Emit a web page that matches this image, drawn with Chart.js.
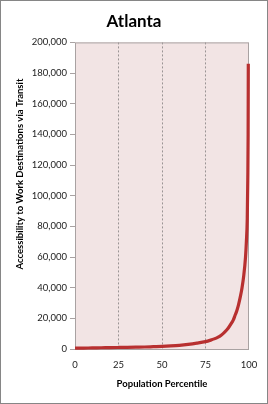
<!DOCTYPE html>
<html>
<head>
<meta charset="utf-8">
<script src="https://cdn.jsdelivr.net/npm/chart.js@4/dist/chart.umd.min.js"></script>
<style>
html,body{margin:0;padding:0;background:#fff;}
#wrap{position:relative;width:268px;height:404px;}
#c{position:absolute;left:0;top:0;}
#frame{position:absolute;left:0;top:0;width:268px;height:404px;box-sizing:border-box;border:1px solid #868686;pointer-events:none;}
</style>
</head>
<body>
<div id="wrap"><canvas id="c" width="268" height="404"></canvas><div id="frame"></div></div>
<script>
const titleText = "Atlanta";
const xTitle = "Population Percentile";
const yTitle = "Accessibility to Work Destinations via Transit";
const xTicks = [0, 25, 50, 75, 100];
const percentiles = [0, 5, 10, 15, 20, 25, 30, 35, 40, 45, 50, 55, 60, 65, 70, 75, 78, 80, 82, 84, 86, 88, 90, 91, 92, 93, 94, 95, 96, 97, 98, 98.5, 99, 99.3, 99.5, 99.6];
const accessibility = [500, 600, 700, 800, 900, 1000, 1100, 1200, 1300, 1500, 1700, 2000, 2400, 3000, 3800, 4800, 5800, 6600, 7600, 9000, 11000, 13500, 17000, 19000, 22000, 25000, 29000, 34000, 40000, 48000, 60000, 70000, 85000, 110000, 140000, 186000];

const FONT = "Lato, 'Open Sans', sans-serif";

const plotDeco = {
  id: 'plotDeco',
  beforeDraw(chart) {
    const a = chart.chartArea, ctx = chart.ctx;
    ctx.save();
    ctx.fillStyle = '#f2e4e4';
    ctx.fillRect(a.left, a.top, a.right - a.left, a.bottom - a.top);
    ctx.restore();
  },
  beforeDatasetsDraw(chart) {
    const a = chart.chartArea, ctx = chart.ctx;
    ctx.save();
    ctx.strokeStyle = '#a9a2a2';
    ctx.lineWidth = 1;
    ctx.strokeRect(a.left + 0.5, a.top + 0.5, a.right - a.left - 1, a.bottom - a.top);
    ctx.restore();
  },
  afterDraw(chart) {
    const ctx = chart.ctx;
    ctx.save();
    ctx.translate(20, 174);
    ctx.rotate(-Math.PI / 2);
    ctx.fillStyle = '#000';
    ctx.font = "bold 9.5px " + FONT;
    ctx.textAlign = 'center';
    ctx.textBaseline = 'middle';
    ctx.fillText(yTitle, 0, 0);
    ctx.restore();
  }
};

new Chart(document.getElementById('c'), {
  type: 'line',
  data: {
    datasets: [{
      data: percentiles.map((p, i) => ({x: p, y: accessibility[i]})),
      borderColor: '#b83030',
      borderWidth: 3.2,
      pointRadius: 0,
      cubicInterpolationMode: 'monotone',
      fill: false
    }]
  },
  options: {
    responsive: false,
    animation: false,
    clip: false,
    layout: {padding: 0},
    plugins: {
      legend: {display: false},
      tooltip: {enabled: false},
      title: {
        display: true,
        text: titleText,
        color: '#000',
        font: {family: FONT, size: 17, weight: 'bold', lineHeight: 1.2},
        padding: {top: 11, bottom: 11}
      }
    },
    scales: {
      x: {
        type: 'linear',
        min: 0, max: 100,
        afterBuildTicks(scale) { scale.ticks = xTicks.map(v => ({value: v})); },
        afterFit(scale) { scale.height = 55; },
        border: {display: false, dash: [2, 2]},
        grid: {
          drawTicks: false,
          color: ctx => (ctx.tick && (ctx.tick.value === 0 || ctx.tick.value === 100)) ? 'rgba(0,0,0,0)' : '#9a9494',
          lineWidth: 1
        },
        ticks: {color: '#222', font: {family: FONT, size: 9.5}, padding: 10, maxRotation: 0},
        title: {display: true, text: xTitle, color: '#000', font: {family: FONT, size: 9.5, weight: 'bold'}, padding: {top: 0, bottom: 14}}
      },
      y: {
        min: 0, max: 200000,
        afterFit(scale) { scale.width = 75; },
        border: {display: false},
        grid: {drawOnChartArea: false, drawTicks: true, tickLength: 5, color: '#a9a2a2'},
        ticks: {stepSize: 20000, color: '#222', font: {family: FONT, size: 9.5}, padding: 3,
          callback: v => v.toLocaleString('en-US')}
      },
      yRight: {
        position: 'right',
        min: 0, max: 200000,
        afterFit(scale) { scale.width = 19; },
        border: {display: false},
        grid: {display: false},
        ticks: {display: false}
      }
    }
  },
  plugins: [plotDeco]
});
</script>
</body>
</html>
